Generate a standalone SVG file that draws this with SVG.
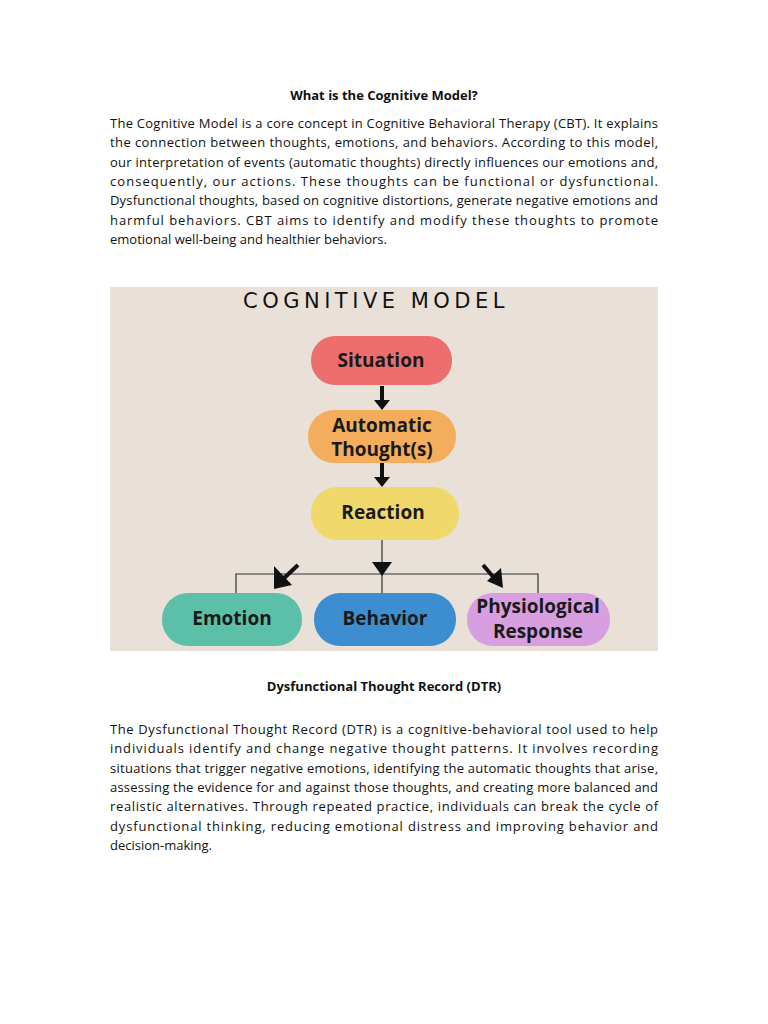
<svg xmlns="http://www.w3.org/2000/svg" width="768" height="1024" viewBox="0 0 768 1024">
<style>
.p{font-family:"Open Sans","Liberation Sans",sans-serif;font-size:13px;fill:#111}
.h{font-family:"Open Sans","Liberation Sans",sans-serif;font-size:13px;font-weight:bold;fill:#111}
.n{font-family:"Open Sans","DejaVu Sans",sans-serif;font-weight:bold;font-size:19px;fill:#1a1a1a;text-anchor:middle}
.ln{stroke:#333;stroke-width:1.2;fill:none}
.ar{stroke:#111;stroke-width:4;fill:none}
.ah{fill:#111}
</style>
<rect width="768" height="1024" fill="#fff"/>
<text class="h" x="384" y="100" text-anchor="middle">What is the Cognitive Model?</text>
<text class="p" x="110" y="128" textLength="548" lengthAdjust="spacing">The Cognitive Model is a core concept in Cognitive Behavioral Therapy (CBT). It explains</text>
<text class="p" x="110" y="147" textLength="548" lengthAdjust="spacing">the connection between thoughts, emotions, and behaviors. According to this model,</text>
<text class="p" x="110" y="167" textLength="548" lengthAdjust="spacing">our interpretation of events (automatic thoughts) directly influences our emotions and,</text>
<text class="p" x="110" y="186" textLength="548" lengthAdjust="spacing">consequently, our actions. These thoughts can be functional or dysfunctional.</text>
<text class="p" x="110" y="205" textLength="548" lengthAdjust="spacing">Dysfunctional thoughts, based on cognitive distortions, generate negative emotions and</text>
<text class="p" x="110" y="225" textLength="548" lengthAdjust="spacing">harmful behaviors. CBT aims to identify and modify these thoughts to promote</text>
<text class="p" x="110" y="244">emotional well-being and healthier behaviors.</text>

<rect x="110" y="287" width="548" height="364" fill="#e9e1d8"/>
<text x="376" y="308" text-anchor="middle" font-family="'DejaVu Sans',sans-serif" font-size="21" letter-spacing="4.5" fill="#111">COGNITIVE MODEL</text>

<g id="connectors">
<path class="ar" d="M382 386V404"/><path class="ah" d="M374 400L382 410L390 400Z"/>
<path class="ar" d="M382 463V481"/><path class="ah" d="M374 477L382 487L390 477Z"/>
<path class="ln" d="M382 540V593M236 593V574H538V593"/>
<path class="ar" d="M382 562V570"/><path class="ah" d="M372 562L382 576L392 562Z"/>
<path class="ar" d="M298 565L282 580"/><path class="ah" d="M274 566L274 589L292 585Z"/>
<path class="ar" d="M483 565L495 579"/><path class="ah" d="M487 581L503 588L501 568Z"/>
</g>
<g id="situation"><rect x="311" y="336" width="141" height="49" rx="24" fill="#ee6e6e"/><text class="n" x="381" y="367">Situation</text></g>
<g id="automatic"><rect x="308" y="410" width="148" height="53" rx="26" fill="#f4ad5c"/><text class="n" x="382" y="432" font-size="18">Automatic</text><text class="n" x="382" y="456" font-size="18">Thought(s)</text></g>
<g id="reaction"><rect x="311" y="487" width="148" height="53" rx="26" fill="#f1d86a"/><text class="n" x="383" y="519">Reaction</text></g>
<g id="emotion"><rect x="162" y="593" width="140" height="53" rx="26" fill="#5cbfa8"/><text class="n" x="232" y="625">Emotion</text></g>
<g id="behavior"><rect x="314" y="593" width="142" height="53" rx="26" fill="#3c8ed0"/><text class="n" x="385" y="625">Behavior</text></g>
<g id="physiological"><rect x="467" y="593" width="143" height="53" rx="26" fill="#d89fe0"/><text class="n" x="538" y="613" font-size="18">Physiological</text><text class="n" x="538" y="638" font-size="18">Response</text></g>

<text class="h" x="384" y="691" text-anchor="middle">Dysfunctional Thought Record (DTR)</text>
<text class="p" x="110" y="734" textLength="548" lengthAdjust="spacing">The Dysfunctional Thought Record (DTR) is a cognitive-behavioral tool used to help</text>
<text class="p" x="110" y="753" textLength="548" lengthAdjust="spacing">individuals identify and change negative thought patterns. It involves recording</text>
<text class="p" x="110" y="773" textLength="548" lengthAdjust="spacing">situations that trigger negative emotions, identifying the automatic thoughts that arise,</text>
<text class="p" x="110" y="792" textLength="548" lengthAdjust="spacing">assessing the evidence for and against those thoughts, and creating more balanced and</text>
<text class="p" x="110" y="811" textLength="548" lengthAdjust="spacing">realistic alternatives. Through repeated practice, individuals can break the cycle of</text>
<text class="p" x="110" y="831" textLength="548" lengthAdjust="spacing">dysfunctional thinking, reducing emotional distress and improving behavior and</text>
<text class="p" x="110" y="850">decision-making.</text>
</svg>
